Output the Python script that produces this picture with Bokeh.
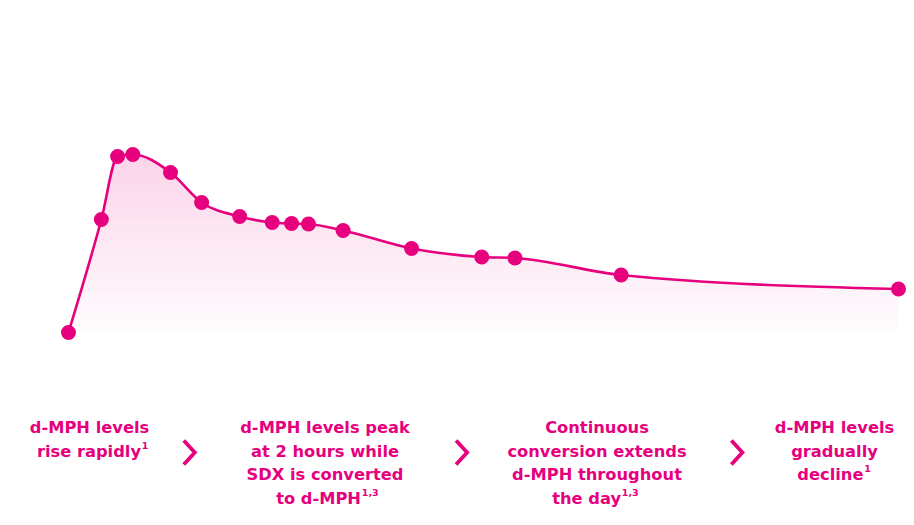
import numpy as np
from bokeh.plotting import figure
from bokeh.models import ColumnDataSource, Range1d
from bokeh.core.properties import value
from bokeh.embed import file_html
from bokeh.resources import INLINE

# ---------------- data ----------------
hours = [0, 0.95, 1.42, 1.86, 2.95, 3.85, 4.95, 5.89, 6.45, 6.94, 7.94, 9.92, 11.95, 12.91, 15.98, 24.0]
level = [0, 11.3, 17.6, 17.8, 16.0, 13.0, 11.6, 11.0, 10.9, 10.85, 10.2, 8.4, 7.55, 7.45, 5.75, 4.35]

captions = [
    ["d-MPH levels", "rise rapidly"],
    ["d-MPH levels peak", "at 2 hours while", "SDX is converted", "to d-MPH"],
    ["Continuous", "conversion extends", "d-MPH throughout", "the day"],
    ["d-MPH levels", "gradually", "decline"],
]
footnotes = ["1", "1,3", "1,3", "1"]

# ---------------- layout / style ----------------
W, H = 914, 525
PINK = "#e6007e"
FONT = value("DejaVu Sans")
block_cx = [89, 324.5, 596.5, 834]          # canvas px
sup_end_x = [140.5, 360.5, 620.5, 863]      # canvas px where last line ends
baselines = [427.1, 450.6, 474.1, 497.6]    # canvas px from top
chevron_left = [181.7, 454.0, 729.3]

p = figure(width=W, height=H, output_backend="svg", toolbar_location=None,
           x_range=Range1d(-1.966, 24.463), y_range=Range1d(-19.3, 33.2),
           min_border=0, x_axis_location=None, y_axis_location=None,
           outline_line_color=None, background_fill_color="white",
           border_fill_color="white")
p.grid.visible = False
p.extra_x_ranges = {"px": Range1d(0, W)}
p.extra_y_ranges = {"px": Range1d(H, 0)}

# ---------------- smooth monotone curve (d3 monotoneX style) ----------------
x = np.asarray(hours, float)
y = np.asarray(level, float)
h = np.diff(x)
d = np.diff(y) / h
n = len(x)
t = np.zeros(n)
for i in range(1, n - 1):
    s0, s1 = d[i - 1], d[i]
    h0, h1 = h[i - 1], h[i]
    pp = (s0 * h1 + s1 * h0) / (h0 + h1)
    t[i] = (np.sign(s0) + np.sign(s1)) * min(abs(s0), abs(s1), 0.5 * abs(pp))
t[0] = (3 * d[0] - t[1]) / 2
t[-1] = (3 * d[-1] - t[-2]) / 2

dx = h / 3
seg = dict(x0=x[:-1], y0=y[:-1], x1=x[1:], y1=y[1:],
           cx0=x[:-1] + dx, cy0=y[:-1] + dx * t[:-1],
           cx1=x[1:] - dx, cy1=y[1:] - dx * t[1:])

# sample the curve for the gradient fill
u = np.linspace(0, 1, 25)
cxs, cys = [], []
for i in range(n - 1):
    P0 = np.array([seg["x0"][i], seg["y0"][i]])
    C0 = np.array([seg["cx0"][i], seg["cy0"][i]])
    C1 = np.array([seg["cx1"][i], seg["cy1"][i]])
    P1 = np.array([seg["x1"][i], seg["y1"][i]])
    uu = u if i == 0 else u[1:]
    B = ((1 - uu) ** 3)[:, None] * P0 + (3 * (1 - uu) ** 2 * uu)[:, None] * C0 \
        + (3 * (1 - uu) * uu ** 2)[:, None] * C1 + (uu ** 3)[:, None] * P1
    cxs.append(B[:, 0]); cys.append(B[:, 1])
cx = np.concatenate(cxs); cy = np.concatenate(cys)

top = cy.max()
step = 0.2
nb = int(np.ceil(top / step))
base_rgb = np.array([230, 0, 126])
for k in range(nb):
    lo = k * step
    hi = lo + step
    y2 = np.maximum(np.minimum(cy, hi + 0.06), lo)
    frac = min((lo + step / 2) / top, 1.0)
    a = 0.012 + 0.155 * frac
    rgb = np.round(255 - a * (255 - base_rgb)).astype(int)
    col = "#%02x%02x%02x" % tuple(rgb)
    p.varea(x=cx, y1=np.full_like(cx, lo), y2=y2, fill_color=col)

p.bezier(x0="x0", y0="y0", x1="x1", y1="y1", cx0="cx0", cy0="cy0", cx1="cx1", cy1="cy1",
         source=ColumnDataSource(seg), line_color=PINK, line_width=2.6)

p.scatter(x=hours, y=level, size=15, fill_color=PINK, line_color=PINK, line_width=0)

# ---------------- chevrons ----------------
cxl, cyl = [], []
for L in chevron_left:
    cxl.append([L + 1.6, L + 12.6, L + 1.6])
    cyl.append([440.0, 452.0, 464.0])
p.multi_line(xs=cxl, ys=cyl, line_color=PINK, line_width=3.8, line_join="miter",
             line_cap="butt", x_range_name="px", y_range_name="px")

# ---------------- captions ----------------
for b, lines in enumerate(captions):
    for j, txt in enumerate(lines):
        last = j == len(lines) - 1
        if not last:
            p.text(x=[block_cx[b]], y=[baselines[j]], text=[txt], x_range_name="px", y_range_name="px",
                   text_font=FONT, text_font_style="bold", text_font_size="16.3px",
                   text_color=PINK, text_align="center", text_baseline="alphabetic")
        else:
            p.text(x=[sup_end_x[b]], y=[baselines[j]], text=[txt], x_range_name="px", y_range_name="px",
                   text_font=FONT, text_font_style="bold", text_font_size="16.3px",
                   text_color=PINK, text_align="right", text_baseline="alphabetic")
            p.text(x=[sup_end_x[b] + 0.8], y=[baselines[j] - 5.8], text=[footnotes[b]],
                   x_range_name="px", y_range_name="px",
                   text_font=FONT, text_font_style="bold", text_font_size="9.5px",
                   text_color=PINK, text_align="left", text_baseline="alphabetic")

open("out.html", "w").write(file_html(p, INLINE))
